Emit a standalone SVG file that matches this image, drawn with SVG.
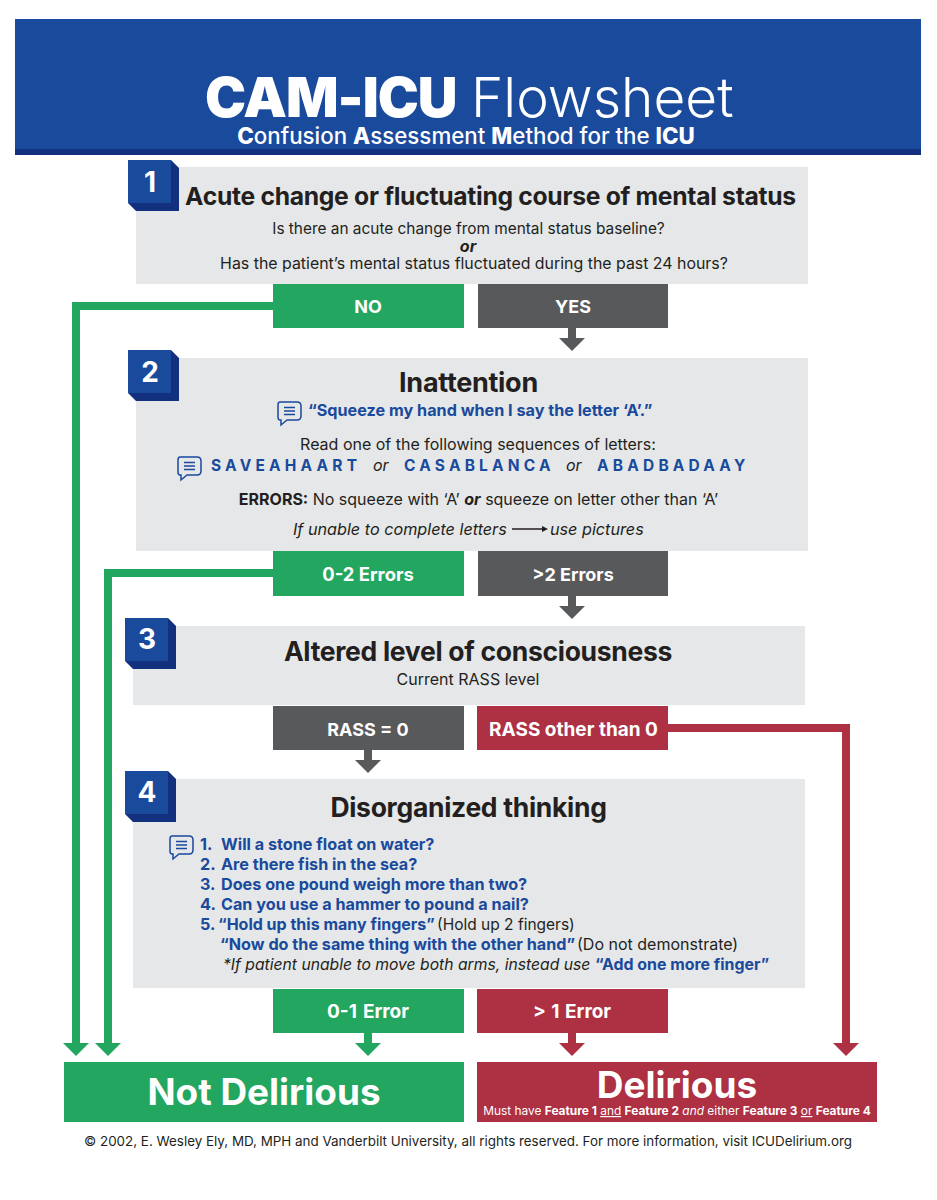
<svg xmlns="http://www.w3.org/2000/svg" width="937" height="1200" viewBox="0 0 937 1200">
<style>
text{font-family:Inter,"Liberation Sans",sans-serif;fill:#231f20}
.c{text-anchor:middle}
.h{font-size:26.500px;font-weight:700;letter-spacing:-.3px}
.b{font-size:16px}
.blue{fill:#1a4a9c;font-weight:700;font-size:16.200px}
.sp{letter-spacing:4.200px;font-weight:700;fill:#1a4a9c;font-size:15.500px}
.btn{font-size:18px;font-weight:700;fill:#fff}
.num{font-size:28px;font-weight:700;fill:#fff;text-anchor:middle}
.box{fill:#e6e7e8}.g{fill:#22a660}.d{fill:#58595b}.r{fill:#ae3043}
.ln{fill:none;stroke-width:8}
.ic{fill:none;stroke:#1a4a9c;stroke-width:1.5}
</style>
<defs>
<marker id="mg" markerUnits="userSpaceOnUse" markerWidth="14" markerHeight="26" refX="0" refY="13" orient="auto"><path d="M0 0L13 13L0 26Z" fill="#22a660"/></marker>
<marker id="mr" markerUnits="userSpaceOnUse" markerWidth="14" markerHeight="26" refX="0" refY="13" orient="auto"><path d="M0 0L13 13L0 26Z" fill="#ae3043"/></marker>
<marker id="md" markerUnits="userSpaceOnUse" markerWidth="14" markerHeight="26" refX="0" refY="13" orient="auto"><path d="M0 0L13 13L0 26Z" fill="#58595b"/></marker>
<marker id="mk" markerUnits="userSpaceOnUse" markerWidth="8" markerHeight="8" refX="0" refY="3" orient="auto"><path d="M0 0L6 3L0 6Z" fill="#231f20"/></marker>
<g id="badge"><path d="M0 0H43L51 8V51H8L0 43Z" fill="#13307f"/><path d="M0 0H43V43H0Z" fill="#1a4a9c"/></g>
<g id="chat"><path class="ic" d="M3 1H20Q24 1 24 5V15Q24 19 20 19H10L4 24V19H3Q1 19 1 16V4Q1 1 3 1Z"/><path d="M7 6.500H18M7 10H18M7 13.500H18" class="ic"/></g>
</defs>

<g id="header">
<rect x="15" y="19" width="906" height="136" fill="#1a4a9c"/>
<rect x="15" y="149" width="906" height="6" fill="#13307f"/>
<text x="205" y="117" font-size="55" font-weight="900" style="fill:#fff" letter-spacing="-1">CAM-ICU</text>
<text x="471" y="117" font-size="55" font-weight="300" style="fill:#fff">Flowsheet</text>
<text x="466" y="144" class="c" font-size="22.300" font-weight="500" style="fill:#fff"><tspan font-weight="800">C</tspan>onfusion <tspan font-weight="800">A</tspan>ssessment <tspan font-weight="800">M</tspan>ethod for the <tspan font-weight="800">ICU</tspan></text>
</g>

<g id="connectors">
<path class="ln" stroke="#22a660" d="M273 306H76V1043" marker-end="url(#mg)"/>
<path class="ln" stroke="#22a660" d="M273 573H108V1043" marker-end="url(#mg)"/>
<path class="ln" stroke="#ae3043" d="M668 728H846V1043" marker-end="url(#mr)"/>
<path class="ln" stroke="#58595b" d="M572 328V338" marker-end="url(#md)"/>
<path class="ln" stroke="#58595b" d="M572 596V606" marker-end="url(#md)"/>
<path class="ln" stroke="#58595b" d="M368 750V760" marker-end="url(#md)"/>
<path class="ln" stroke="#22a660" d="M368 1033V1043" marker-end="url(#mg)"/>
<path class="ln" stroke="#ae3043" d="M572 1033V1043" marker-end="url(#mr)"/>
</g>

<g id="step1">
<rect class="box" x="136" y="167" width="672" height="117"/>
<use href="#badge" x="128" y="160"/>
<text class="num" x="150" y="192">1</text>
<text class="h" x="490.500" y="205" text-anchor="middle" style="font-size:24.700px">Acute change or fluctuating course of mental status</text>
<text class="b c" x="468.500" y="234" style="font-size:15.400px">Is there an acute change from mental status baseline?</text>
<text class="b c" x="468" y="252" font-weight="700" font-style="italic">or</text>
<text class="b c" x="474" y="269" style="font-size:15.900px">Has the patient’s mental status fluctuated during the past 24 hours?</text>
</g>
<g id="no"><rect class="g" x="273" y="284" width="191" height="44"/><text class="btn c" x="368" y="313">NO</text></g>
<g id="yes"><rect class="d" x="478" y="284" width="190" height="44"/><text class="btn c" x="573" y="313">YES</text></g>

<g id="step2">
<rect class="box" x="136" y="358" width="672" height="193"/>
<use href="#badge" x="128" y="350"/>
<text class="num" x="150" y="382">2</text>
<text class="h c" x="468.500" y="392" style="font-size:27px">Inattention</text>
<use href="#chat" x="277" y="401"/>
<text class="blue" x="308" y="416">“Squeeze my hand when I say the letter ‘A’.”</text>
<text class="b c" x="478" y="450">Read one of the following sequences of letters:</text>
<use href="#chat" x="177" y="456"/>
<text class="sp" x="211" y="471">SAVEAHAART</text>
<text class="b" x="373" y="471" font-style="italic">or</text>
<text class="sp" x="404" y="471">CASABLANCA</text>
<text class="b" x="566" y="471" font-style="italic">or</text>
<text class="sp" x="597" y="471">ABADBADAAY</text>
<text class="b c" x="478.500" y="505"><tspan font-weight="700">ERRORS:</tspan> No squeeze with ‘A’ <tspan font-weight="700" font-style="italic">or</tspan> squeeze on letter other than ‘A’</text>
<text class="b" x="293" y="535" font-style="italic" style="font-size:16.200px">If unable to complete letters</text>
<path d="M512 529H542" stroke="#231f20" stroke-width="1.500" marker-end="url(#mk)"/>
<text class="b" x="550" y="535" font-style="italic" style="font-size:16.200px">use pictures</text>
</g>
<g id="errors02"><rect class="g" x="273" y="551" width="191" height="45"/><text class="btn c" x="368" y="581" style="font-size:18.400px">0-2 Errors</text></g>
<g id="errors2"><rect class="d" x="478" y="551" width="190" height="45"/><text class="btn c" x="573" y="581">&gt;2 Errors</text></g>

<g id="step3">
<rect class="box" x="133" y="626" width="672" height="79"/>
<use href="#badge" x="125" y="618"/>
<text class="num" x="147" y="649">3</text>
<text class="h c" x="478" y="661">Altered level of consciousness</text>
<text class="b c" x="468" y="685">Current RASS level</text>
</g>
<g id="rass0"><rect class="d" x="273" y="706" width="191" height="44"/><text class="btn c" x="368" y="736">RASS = 0</text></g>
<g id="rassother"><rect class="r" x="477" y="706" width="191" height="44"/><text class="btn c" x="573.500" y="736" style="font-size:19px">RASS other than 0</text></g>

<g id="step4">
<rect class="box" x="133" y="779" width="672" height="209"/>
<use href="#badge" x="125" y="771"/>
<text class="num" x="147" y="802">4</text>
<text class="h c" x="468.500" y="817">Disorganized thinking</text>
<use href="#chat" x="169" y="835"/>
<text class="blue" x="200" y="850">1.</text><text class="blue" x="221" y="850">Will a stone float on water?</text>
<text class="blue" x="200" y="870">2.</text><text class="blue" x="221" y="870">Are there fish in the sea?</text>
<text class="blue" x="200" y="890">3.</text><text class="blue" x="221" y="890">Does one pound weigh more than two?</text>
<text class="blue" x="200" y="910">4.</text><text class="blue" x="221" y="910">Can you use a hammer to pound a nail?</text>
<text class="blue" x="200" y="930">5.</text><text class="blue" x="218" y="930" style="font-size:16px">“Hold up this many fingers”</text><text class="b" x="437" y="930" style="font-size:15.500px">(Hold up 2 fingers)</text>
<text class="blue" x="220" y="950">“Now do the same thing with the other hand”</text><text class="b" x="577" y="950">(Do not demonstrate)</text>
<text class="b" x="223" y="970" font-style="italic" style="font-size:15.700px">*If patient unable to move both arms, instead use</text><text class="blue" x="595" y="970" style="font-size:15.900px">“Add one more finger”</text>
</g>
<g id="error01"><rect class="g" x="273" y="989" width="191" height="44"/><text class="btn c" x="368" y="1018" style="font-size:19px" word-spacing="1.500">0-1 Error</text></g>
<g id="error1"><rect class="r" x="477" y="989" width="191" height="44"/><text class="btn c" x="572" y="1018" style="font-size:19px" word-spacing="1">&gt; 1 Error</text></g>

<g id="notdelirious"><rect class="g" x="64" y="1062" width="400" height="60"/><text class="c" x="264" y="1105" font-size="36.900" font-weight="700" style="fill:#fff">Not Delirious</text></g>
<g id="delirious"><rect class="r" x="477" y="1062" width="400" height="60"/>
<text class="c" x="677" y="1098" font-size="37" font-weight="700" style="fill:#fff">Delirious</text>
<text class="c" x="677" y="1115" font-size="11.900" style="fill:#fff">Must have <tspan font-weight="700">Feature 1</tspan> <tspan text-decoration="underline">and</tspan> <tspan font-weight="700">Feature 2</tspan> <tspan font-style="italic">and</tspan> either <tspan font-weight="700">Feature 3</tspan> <tspan text-decoration="underline">or</tspan> <tspan font-weight="700">Feature 4</tspan></text>
</g>
<text id="footer" class="c" x="468" y="1146" font-size="13.400">© 2002, E. Wesley Ely, MD, MPH and Vanderbilt University, all rights reserved. For more information, visit ICUDelirium.org</text>
</svg>
